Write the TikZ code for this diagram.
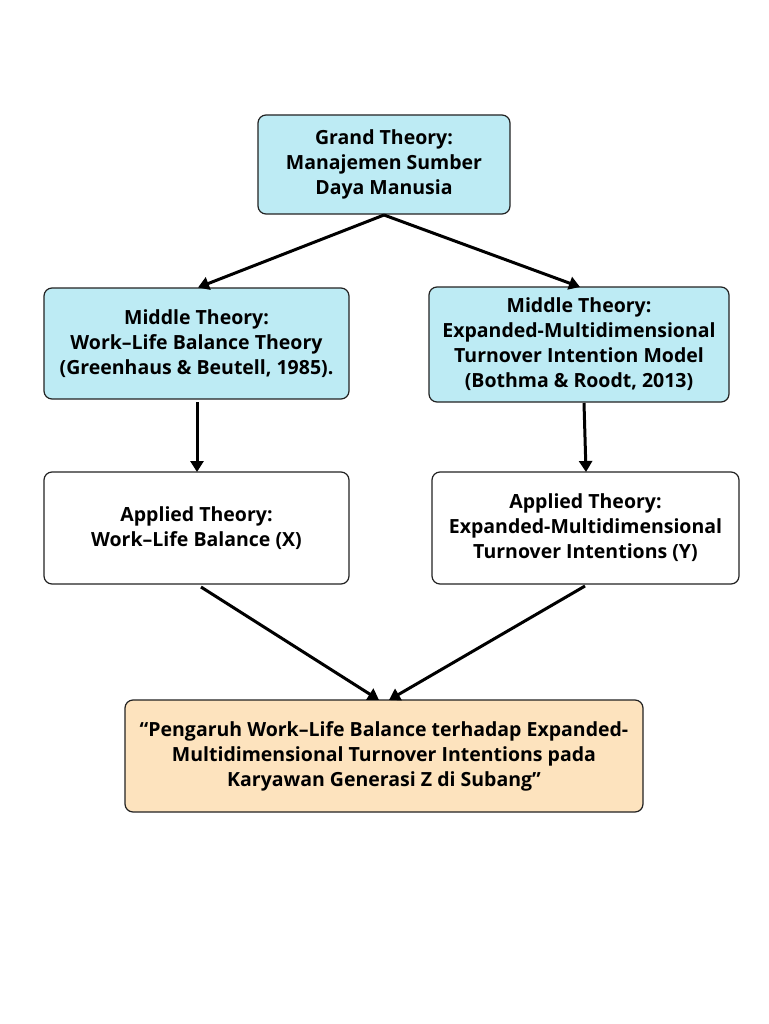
\documentclass[tikz,border=0pt]{standalone}
\usepackage{fontspec}
\setmainfont{Open Sans}
\usetikzlibrary{arrows.meta}
\definecolor{cyanbox}{HTML}{BDEBF4}
\definecolor{orangebox}{HTML}{FDE3BE}
\definecolor{edge}{HTML}{222222}
\tikzset{
  box/.style={draw=edge, line width=1.2pt, rounded corners=8pt, align=center,
    font=\fontsize{19.5}{25}\selectfont\bfseries, inner sep=0pt},
  cbox/.style={box, fill=cyanbox},
  wbox/.style={box, fill=white},
  obox/.style={box, fill=orangebox},
  arr/.style={line width=3pt, -{Triangle[length=11pt,width=13pt]}}
}
\begin{document}
\begin{tikzpicture}[x=1pt,y=-1pt]
\useasboundingbox (0,0) rectangle (768,1024);
\node[cbox, minimum width=252pt, minimum height=99pt] (grand) at (384,164.5)
  {Grand Theory:\\Manajemen Sumber\\Daya Manusia};
\node[cbox, minimum width=305pt, minimum height=111pt] (ml) at (196.5,343.5)
  {Middle Theory:\\Work--Life Balance Theory\\(Greenhaus \& Beutell, 1985).};
\node[cbox, minimum width=300pt, minimum height=115pt] (mr) at (579,344.5)
  {Middle Theory:\\Expanded-Multidimensional\\Turnover Intention Model\\(Bothma \& Roodt, 2013)};
\node[wbox, minimum width=305pt, minimum height=112pt] (al) at (196.5,528)
  {Applied Theory:\\Work--Life Balance (X)};
\node[wbox, minimum width=307pt, minimum height=112pt] (ar) at (585.5,528)
  {Applied Theory:\\Expanded-Multidimensional\\Turnover Intentions (Y)};
\node[obox, minimum width=518pt, minimum height=112pt] (res) at (384,756)
  {“Pengaruh Work--Life Balance terhadap Expanded-\\Multidimensional Turnover Intentions pada\\Karyawan Generasi Z di Subang”};
\coordinate (gb) at (384,215);
\draw[arr] (gb) -- (198,287.5) coordinate (mlt);
\draw[arr] (gb) -- (580,287) coordinate (mrt);
\draw[arr] (197,402) coordinate (mlb) -- (197,472) coordinate (alt);
\draw[arr] (584,403) coordinate (mrb) -- (586,472) coordinate (art);
\draw[arr] (201,587) coordinate (alb) -- (379,700) coordinate (rest1);
\draw[arr] (585,586) coordinate (arb) -- (389,700) coordinate (rest2);
\end{tikzpicture}
\end{document}
